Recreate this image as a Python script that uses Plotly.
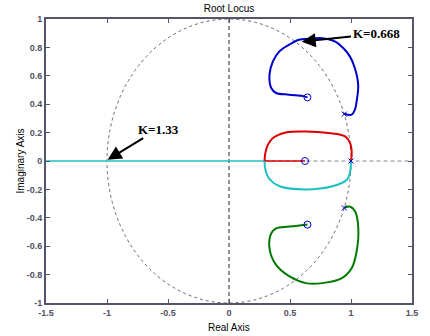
import plotly.graph_objects as go

# ---- data ----
blue_x = [0.945, 1.005, 1.032, 1.046, 1.059, 1.032, 0.992, 0.938, 0.871, 0.764, 0.655, 0.574,
          0.493, 0.413, 0.360, 0.332, 0.346, 0.386, 0.493, 0.615, 0.643]
blue_y = [0.333, 0.326, 0.361, 0.418, 0.536, 0.653, 0.735, 0.794, 0.841, 0.865, 0.861, 0.854,
          0.819, 0.772, 0.701, 0.608, 0.514, 0.479, 0.467, 0.455, 0.448]

green_x = [0.945, 0.994, 1.034, 1.060, 1.046, 1.006, 0.926, 0.764, 0.630, 0.496, 0.386, 0.332,
           0.346, 0.386, 0.493, 0.615, 0.643]
green_y = [-0.329, -0.322, -0.356, -0.473, -0.637, -0.754, -0.825, -0.860, -0.860, -0.813,
           -0.732, -0.615, -0.510, -0.474, -0.462, -0.450, -0.448]

red_x = [1.0, 1.006, 0.992, 0.952, 0.817, 0.629, 0.467, 0.360, 0.319, 0.298, 0.291]
red_y = [0.0, 0.056, 0.127, 0.173, 0.197, 0.208, 0.201, 0.162, 0.115, 0.056, 0.0]
red_axis_x = [0.291, 0.623]
red_axis_y = [0.0, 0.0]

cyan_x = [1.0, 0.992, 0.968, 0.847, 0.629, 0.415, 0.334, 0.298, 0.291]
cyan_y = [0.0, -0.080, -0.130, -0.178, -0.200, -0.178, -0.130, -0.060, 0.0]
cyan_axis_x = [0.291, -1.6]
cyan_axis_y = [0.0, 0.0]

pole_x = [0.945, 0.945, 1.0]
pole_y = [0.330, -0.330, 0.0]
zero_x = [0.643, 0.643, 0.623]
zero_y = [0.448, -0.448, 0.0]

xticks = [-1.5, -1, -0.5, 0, 0.5, 1, 1.5]
xtick_text = ["-1.5", "-1", "-0.5", "0", "0.5", "1", "1.5"]
yticks = [-1, -0.8, -0.6, -0.4, -0.2, 0, 0.2, 0.4, 0.6, 0.8, 1]
ytick_text = ["-1", "-0.8", "-0.6", "-0.4", "-0.2", "0", "0.2", "0.4", "0.6", "0.8", "1"]

ann1_text, ann1_tip, ann1_pos = "K=0.668", (0.596, 0.840), (1.205, 0.896)
ann2_text, ann2_tip, ann2_pos = "K=1.33", (-0.995, 0.009), (-0.582, 0.225)

fig = go.Figure()

# reference guides
fig.add_shape(type="circle", xref="x", yref="y", x0=-1, y0=-1, x1=1, y1=1,
              line=dict(color="#666677", width=1, dash="3px,3px"), layer="below")
fig.add_shape(type="line", xref="x", yref="y", x0=0, y0=-1, x1=0, y1=1,
              line=dict(color="#222222", width=1, dash="4px,3px"), layer="below")
fig.add_shape(type="line", xref="x", yref="y", x0=red_axis_x[0], y0=0, x1=1.5, y1=0,
              line=dict(color="#888899", width=1, dash="4px,3px"), layer="below")

line_w = 2
fig.add_trace(go.Scatter(x=cyan_axis_x, y=cyan_axis_y, mode="lines",
                         line=dict(color="#20c0c0", width=1.4)))
fig.add_trace(go.Scatter(x=red_axis_x, y=red_axis_y, mode="lines",
                         line=dict(color="#dd0000", width=1.3)))
fig.add_trace(go.Scatter(x=blue_x, y=blue_y, mode="lines",
                         line=dict(color="#0000cc", width=line_w, shape="spline")))
fig.add_trace(go.Scatter(x=green_x, y=green_y, mode="lines",
                         line=dict(color="#007a00", width=line_w, shape="spline")))
fig.add_trace(go.Scatter(x=red_x, y=red_y, mode="lines",
                         line=dict(color="#dd0000", width=line_w, shape="spline")))
fig.add_trace(go.Scatter(x=cyan_x, y=cyan_y, mode="lines",
                         line=dict(color="#20c0c0", width=line_w, shape="spline")))
fig.add_trace(go.Scatter(x=pole_x, y=pole_y, mode="markers",
                         marker=dict(symbol="x-thin", size=5, color="#0000cc",
                                     line=dict(color="#0000cc", width=1))))
fig.add_trace(go.Scatter(x=zero_x, y=zero_y, mode="markers",
                         marker=dict(symbol="circle-open", size=7, color="#0000cc",
                                     line=dict(color="#0000cc", width=1))))

for text, tip, pos in [(ann1_text, ann1_tip, ann1_pos), (ann2_text, ann2_tip, ann2_pos)]:
    fig.add_annotation(x=tip[0], y=tip[1], ax=pos[0], ay=pos[1], xref="x", yref="y",
                       axref="x", ayref="y", text=text, showarrow=True,
                       arrowhead=2, arrowsize=1.4, arrowwidth=2, arrowcolor="black",
                       font=dict(family="Liberation Serif", size=13, color="black", weight="bold"))

axis_common = dict(showgrid=False, zeroline=False, showline=True, mirror="ticks",
                   linecolor="#55556a", linewidth=2, ticks="inside", ticklen=4,
                   tickcolor="#55556a", tickwidth=1,
                   tickfont=dict(family="Liberation Sans", size=9, color="#505060", weight="bold"))

fig.update_layout(
    width=430, height=336,
    margin=dict(l=46, r=12, t=19, b=33),
    paper_bgcolor="white", plot_bgcolor="white",
    showlegend=False,
    xaxis=dict(range=[-1.5, 1.5], tickvals=xticks, ticktext=xtick_text, **axis_common),
    yaxis=dict(range=[-1, 1], tickvals=yticks, ticktext=ytick_text, **axis_common),
    title=dict(text="Root Locus", x=0.5, xanchor="center", xref="paper",
               y=1 - 8 / 336, yref="container", yanchor="middle",
               font=dict(family="Liberation Sans", size=10, color="black")),
)
fig.add_annotation(text="Real Axis", xref="paper", yref="paper", x=0.5, y=0,
                   yshift=-24, yanchor="middle", showarrow=False,
                   font=dict(family="Liberation Sans", size=10, color="black"))
fig.add_annotation(text="Imaginary Axis", xref="paper", yref="paper", x=0, y=0.5,
                   xshift=-34, textangle=-90, showarrow=False,
                   font=dict(family="Liberation Sans", size=10, color="black"))

fig.write_html("out.html")
